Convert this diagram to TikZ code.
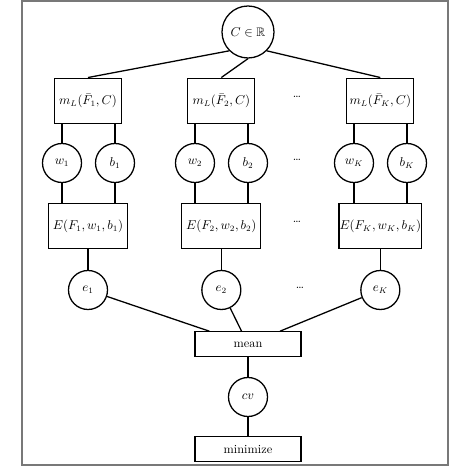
\documentclass[tikz,border=0pt]{standalone}
\usepackage{tikz}
\usetikzlibrary{positioning, calc}
\usepackage{amsmath}
\usepackage{amssymb}
\definecolor{framegray}{RGB}{120, 120, 120}

\begin{document}
\begin{tikzpicture}[font=\fontsize{10.5}{13}\selectfont]
            \tikzstyle{block} = [rectangle, draw, line width=1.1pt, minimum width=2.01cm, minimum height=1.35cm, inner sep=0.5pt]
            \tikzstyle{eblock} = [block, minimum width=2.37cm]
            \tikzstyle{flat} = [rectangle, draw, line width=1.1pt, minimum width=3.18cm, minimum height=0.75cm]
            \tikzstyle{param} = [circle, draw, line width=1.1pt, minimum size=1.17cm, inner sep=0pt]
            \tikzstyle{line} = [line width=1.1pt]

            \useasboundingbox (0,0) rectangle (14.22,14.22);
            \draw[framegray, line width=0.9pt] (0.66,0.27) rectangle (13.44,14.19);

            \node[param, minimum size=1.56cm] (C) at (7.44,13.26) {$C \in \mathbb{R}$};

            \node[block] (m1) at (2.64,11.2) {$m_L(\bar{F}_1,C)$};
            \node[block] (m2) at (6.64,11.2) {$m_L(\bar{F}_2,C)$};
            \node[block] (mK) at (11.41,11.2) {$m_L(\bar{F}_K,C)$};
            \node (d1) at (8.91,11.31) {\dots};

            \node[param] (w1) at (1.86,9.33) {$w_1$};
            \node[param] (b1) at (3.45,9.33) {$b_1$};
            \node[param] (w2) at (5.85,9.33) {$w_2$};
            \node[param] (b2) at (7.44,9.33) {$b_2$};
            \node[param] (wK) at (10.62,9.33) {$w_K$};
            \node[param] (bK) at (12.21,9.33) {$b_K$};
            \node (d2) at (8.91,9.42) {\dots};

            \node[eblock] (E1) at (2.64,7.43) {$E(F_1,w_1,b_1)$};
            \node[eblock] (E2) at (6.64,7.43) {$E(F_2,w_2,b_2)$};
            \node[eblock] (EK) at (11.41,7.43) {$E(F_K,w_K,b_K)$};
            \node (d3) at (8.91,7.56) {\dots};

            \node[param] (e1) at (2.64,5.52) {$e_1$};
            \node[param] (e2) at (6.64,5.52) {$e_2$};
            \node[param] (eK) at (11.41,5.52) {$e_K$};
            \node (d4) at (9.0,5.58) {\dots};

            \node[flat] (mean) at (7.44,3.89) {mean};
            \node[param] (cv) at (7.44,2.31) {$cv$};
            \node[flat] (min) at (7.44,0.74) {minimize};

            % top fan
            \draw[line] (C.south west) -- (m1.north);
            \draw[line] (C.south) -- (m2.north);
            \draw[line] (C.south east) -- (mK.north);

            % parameters
            \foreach \i in {1,2,K} {
                \draw[line] (m\i.south -| w\i) -- (w\i);
                \draw[line] (m\i.south -| b\i) -- (b\i);
                \draw[line] (w\i) -- (w\i |- E\i.north);
                \draw[line] (b\i) -- (b\i |- E\i.north);
                \draw[line] (E\i) -- (e\i);
                \draw[line] (e\i) -- (mean);
            }

            \draw[line] (mean) -- (cv);
            \draw[line] (cv) -- (min);
        \end{tikzpicture}
\end{document}
